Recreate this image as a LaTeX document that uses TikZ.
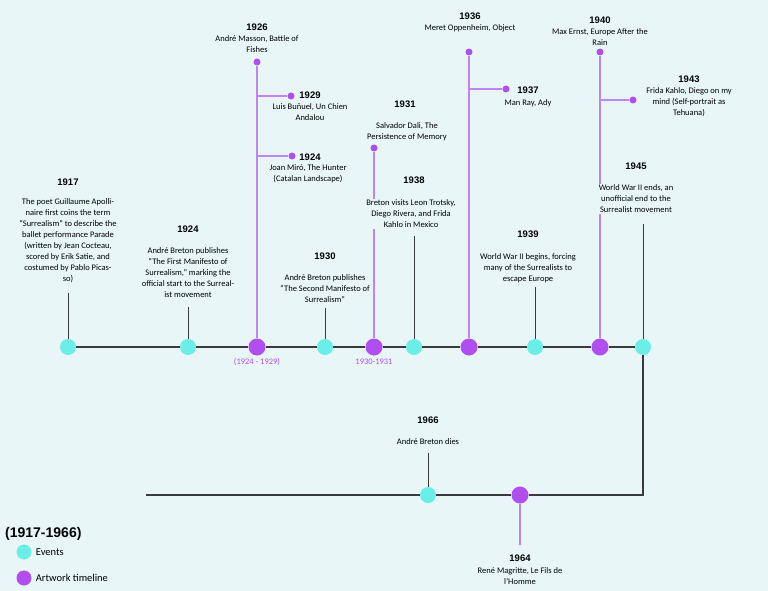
\documentclass[tikz,border=0pt]{standalone}
\usepackage{fontspec}
\setmainfont{Carlito}
\newfontfamily\yearfont{Liberation Sans}
\usetikzlibrary{positioning}
\definecolor{bgc}{HTML}{E9F6F7}
\definecolor{evc}{HTML}{6CEEE8}
\definecolor{artc}{HTML}{B04EF0}
\definecolor{artl}{HTML}{C284F2}
\definecolor{axis}{HTML}{3A3A3A}
\tikzset{
  ev/.style={circle, fill=evc, inner sep=0pt, minimum size=16pt},
  art/.style={circle, fill=artc, inner sep=0pt, minimum size=17pt},
  pin/.style={circle, fill=artc, inner sep=0pt, minimum size=7pt},
  yr/.style={fill=bgc, inner sep=1pt, font=\yearfont\bfseries\fontsize{9.5}{10}\selectfont},
  txt/.style={fill=bgc, align=center, inner sep=1pt, font=\fontsize{8.5}{11}\selectfont},
  span/.style={text=artc, inner sep=1pt, font=\fontsize{8.5}{10}\selectfont},
  stem/.style={axis, line width=0.8pt},
  line/.style={axis, line width=1.2pt},
  astem/.style={artl, line width=1.1pt},
}

\begin{document}
\begin{tikzpicture}[x=1pt, y=-1pt]
  \fill[bgc] (0,0) rectangle (768,591);
  \useasboundingbox (0,0) rectangle (768,591);
  % main line, dots
  \node[ev] (e17) at (68,347) {};
  \node[ev] (e24) at (188,347) {};
  \node[art] (a24) at (257,347) {};
  \node[ev] (e30) at (325,347) {};
  \node[art] (a30) at (374,347) {};
  \node[ev] (e38) at (414,347) {};
  \node[art] (a36) at (469,347) {};
  \node[ev] (e39) at (535,347) {};
  \node[art] (a40) at (600,347) {};
  \node[ev] (e45) at (643,347) {};
  \node[ev] (e66) at (428,495) {};
  \node[art] (a64) at (520,495) {};
  \coordinate (cor) at (643,495);
  \coordinate (lend) at (146,495);
  % artwork pins
  \node[pin] (p26) at (257,62) {};
  \node[pin] (p29) at (291,96) {};
  \node[pin] (p24) at (292,156) {};
  \node[pin] (p31) at (374,148) {};
  \node[pin] (p36) at (469,52) {};
  \node[pin] (p37) at (506,89) {};
  \node[pin] (p40) at (600,52) {};
  \node[pin] (p43) at (633,100) {};
  \coordinate (p64) at (520,545);
  % stem tops
  \coordinate (s17) at (68,293);
  \coordinate (s24) at (188,307);
  \coordinate (s30) at (325,308);
  \coordinate (s38) at (414,236);
  \coordinate (s39) at (535,287);
  \coordinate (s45) at (643,224);
  \coordinate (s66) at (428,453);

  \foreach \a/\b in {e17/e24,e24/a24,a24/e30,e30/a30,a30/e38,e38/a36,a36/e39,e39/a40,a40/e45}
    \draw[line] (\a) -- (\b);
  \draw[line] (e45) -- (cor) -- (a64);
  \draw[line] (a64) -- (e66);
  \draw[line] (e66) -- (lend);
  \foreach \s/\e in {s17/e17,s24/e24,s30/e30,s38/e38,s39/e39,s45/e45,s66/e66}
    \draw[stem] (\s) -- (\e);
  \foreach \p/\a in {p26/a24,p31/a30,p36/a36,p40/a40}
    \draw[astem] (\p) -- (\a);
  \draw[astem] (a64) -- (p64);
  \foreach \p/\a in {p29/a24,p24/a24,p37/a36,p43/a40}
    \draw[astem] (\p -| \a) -- (\p);

  % events
  \node[yr] (y17) at (68,182) {1917};
  \node[txt] (t17) at (68,241) {The poet Guillaume Apolli-\\naire first coins the term\\“Surrealism” to describe the\\ballet performance Parade\\(written by Jean Cocteau,\\scored by Erik Satie, and\\costumed by Pablo Picas-\\so)};
  \node[yr] (y24) at (188,229) {1924};
  \node[txt] (t24) at (188,273) {André Breton publishes\\“The First Manifesto of\\Surrealism,” marking the\\official start to the Surreal-\\ist movement};
  \node[yr] (y30) at (325,256) {1930};
  \node[txt] (t30) at (325,289) {André Breton publishes\\“The Second Manifesto of\\Surrealism”};
  \node[yr] (y38) at (414,180) {1938};
  \node[txt] (t38) at (411,214) {Breton visits Leon Trotsky,\\Diego Rivera, and Frida\\Kahlo in Mexico};
  \node[yr] (y39) at (528,234) {1939};
  \node[txt] (t39) at (528,268) {World War II begins, forcing\\many of the Surrealists to\\escape Europe};
  \node[yr] (y45) at (636,166) {1945};
  \node[txt] (t45) at (636,199) {World War II ends, an\\unofficial end to the\\Surrealist movement};
  \node[yr] (y66) at (428,420) {1966};
  \node[txt] (t66) at (428,442) {André Breton dies};
  % artworks
  \node[yr] (y26) at (257,27) {1926};
  \node[txt] (t26) at (257,44) {André Masson, Battle of\\Fishes};
  \node[yr] (y29) at (310,95) {1929};
  \node[txt] (t29) at (310,112) {Luis Buñuel, Un Chien\\Andalou};
  \node[yr] (y24b) at (310,157) {1924};
  \node[txt] (t24b) at (308,174) {Joan Miró, The Hunter\\(Catalan Landscape)};
  \node[yr] (y31) at (405,104) {1931};
  \node[txt] (t31) at (407,132) {Salvador Dali, The\\Persistence of Memory};
  \node[yr] (y36) at (470,16) {1936};
  \node[txt] (t36) at (470,28) {Meret Oppenheim, Object};
  \node[yr] (y37) at (528,90) {1937};
  \node[txt] (t37) at (528,103) {Man Ray, Ady};
  \node[yr] (y40) at (600,20) {1940};
  \node[txt] (t40) at (600,37) {Max Ernst, Europe After the\\Rain};
  \node[yr] (y43) at (689,79) {1943};
  \node[txt] (t43) at (689,102) {Frida Kahlo, Diego on my\\mind (Self-portrait as\\Tehuana)};
  \node[yr] (y64) at (520,558) {1964};
  \node[txt] (t64) at (520,576) {René Magritte, Le Fils de\\l'Homme};
  \node[span] (r24) at (257,362) {(1924 - 1929)};
  \node[span] (r30) at (374,362) {1930-1931};

  % legend
  \node[anchor=west, inner sep=0pt, font=\yearfont\bfseries\fontsize{14}{16}\selectfont] (ttl) at (5,534) {(1917-1966)};
  \node[ev, minimum size=15pt] (kev) at (24,552) {};
  \node[art, minimum size=15pt] (kart) at (24,578) {};
  \node[right=4pt of kev, inner sep=0pt, font=\fontsize{10.5}{12}\selectfont] (lev) {Events};
  \node[right=4pt of kart, inner sep=0pt, font=\fontsize{10.5}{12}\selectfont] (lart) {Artwork timeline};
\end{tikzpicture}
\end{document}
